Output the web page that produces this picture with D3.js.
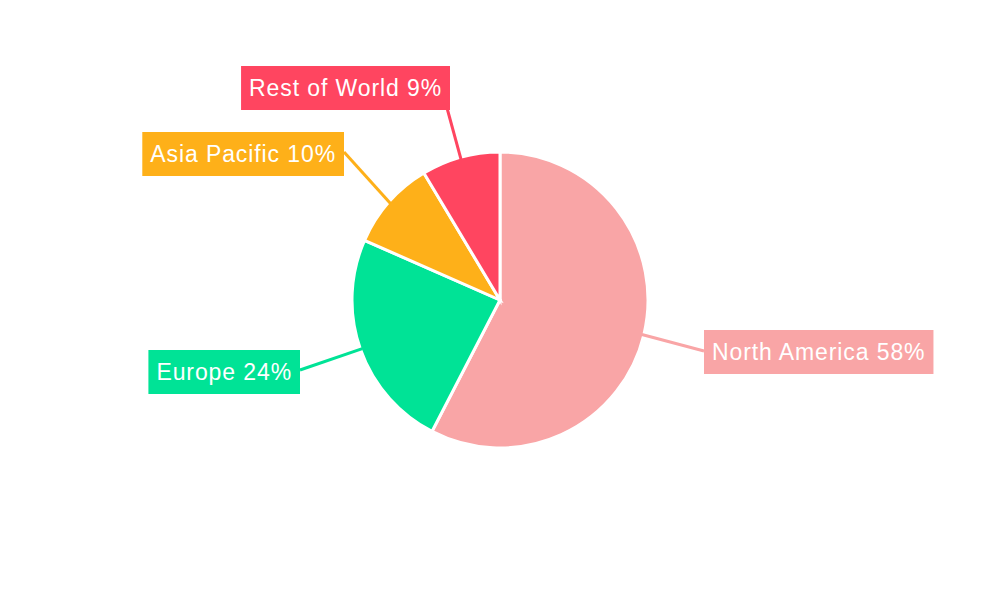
<!DOCTYPE html>
<html>
<head>
<meta charset="utf-8">
<script src="https://cdn.jsdelivr.net/npm/d3@7"></script>
<style>body{margin:0;background:#fff}</style>
</head>
<body>
<script>
var regions = ["North America", "Europe", "Asia Pacific", "Rest of World"];
var shares = [57.6, 24.0, 9.8, 8.6];
var pctLabels = ["58%", "24%", "10%", "9%"];
var colors = ["#f9a5a6", "#00e396", "#feb019", "#ff4560"];

// label box anchor (where leader line ends) and box side
var labelPos = [[704, 351, "left"], [300, 370, "right"], [344, 152, "right"], [447, 108, "bottom"]];

var w = 1000, h = 600, cx = 500, cy = 300, r = 148;
var svg = d3.select("body").append("svg").attr("width", w).attr("height", h);

var pie = d3.pie().sort(null).value(function(d) { return d; });
var arcs = pie(shares);
var arc = d3.arc().innerRadius(0).outerRadius(r);

var g = svg.append("g").attr("transform", "translate(" + cx + "," + cy + ")");
g.selectAll("path").data(arcs).enter().append("path")
  .attr("d", arc)
  .attr("fill", function(d, i) { return colors[i]; })
  .attr("stroke", "#fff").attr("stroke-width", 3);

arcs.forEach(function(d, i) {
  var a = (d.startAngle + d.endAngle) / 2;
  var sx = cx + (r - 2) * Math.sin(a), sy = cy - (r - 2) * Math.cos(a);
  var p = labelPos[i];
  svg.append("line").attr("x1", sx).attr("y1", sy).attr("x2", p[0]).attr("y2", p[1])
    .attr("stroke", colors[i]).attr("stroke-width", 3);
  var t = svg.append("text").text(regions[i] + " " + pctLabels[i])
    .attr("font-family", "Liberation Sans, Arial, sans-serif").attr("font-size", 23)
    .attr("letter-spacing", 0.9)
    .attr("fill", "#fff");
  var bw = t.node().getComputedTextLength() + 16, bh = 44;
  var bx, by;
  if (p[2] === "left") { bx = p[0]; by = p[1] - 21; }
  else if (p[2] === "right") { bx = p[0] - bw; by = p[1] - 20; }
  else { bx = p[0] + 3 - bw; by = p[1] - bh + 2; }
  svg.insert("rect", "text:last-of-type").attr("x", bx).attr("y", by)
    .attr("width", bw).attr("height", bh).attr("fill", colors[i]);
  t.attr("x", bx + 8).attr("y", by + 30);
  t.raise();
});
</script>
</body>
</html>
